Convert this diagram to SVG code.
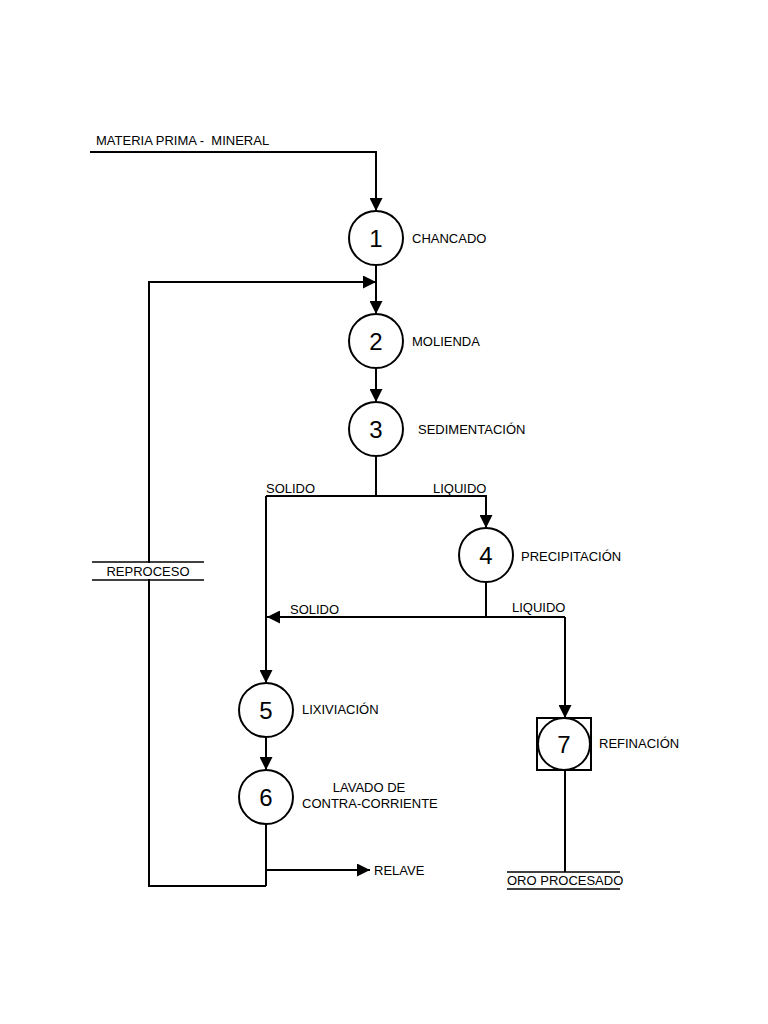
<svg xmlns="http://www.w3.org/2000/svg" width="768" height="1024" viewBox="0 0 768 1024">
<style>
.ln{fill:none;stroke:#000;stroke-width:2}
.thin{fill:none;stroke:#000;stroke-width:1.5}
.nd{fill:#fff;stroke:#000;stroke-width:2}
.num{font-family:"Liberation Sans",Arial,sans-serif;font-size:24px;text-anchor:middle;fill:#000}
.lb{font-family:"Liberation Sans",Arial,sans-serif;font-size:13px;fill:#000;white-space:pre}
</style>
<defs>
<marker id="ah" viewBox="0 0 10 10" refX="10" refY="5" markerWidth="6.5" markerHeight="6.5" markerUnits="strokeWidth" orient="auto">
<path d="M0,0 L10,5 L0,10 z" fill="#000"/>
</marker>
</defs>
<rect width="768" height="1024" fill="#fff"/>
<g id="connectors">
<polyline class="ln" points="90,152 376,152 376,211" marker-end="url(#ah)"/>
<polyline class="ln" points="266,886 149,886 149,282 376,282" marker-end="url(#ah)"/>
<line class="ln" x1="376" y1="265" x2="376" y2="314" marker-end="url(#ah)"/>
<line class="ln" x1="376" y1="368" x2="376" y2="402" marker-end="url(#ah)"/>
<polyline class="ln" points="376,456 376,496"/>
<polyline class="ln" points="266,496 486,496 486,528" marker-end="url(#ah)"/>
<line class="ln" x1="266" y1="496" x2="266" y2="683" marker-end="url(#ah)"/>
<line class="ln" x1="486" y1="582" x2="486" y2="617"/>
<line class="ln" x1="565" y1="617" x2="267" y2="617" marker-end="url(#ah)"/>
<line class="ln" x1="565" y1="617" x2="565" y2="718" marker-end="url(#ah)"/>
<line class="ln" x1="266" y1="737" x2="266" y2="770" marker-end="url(#ah)"/>
<line class="ln" x1="266" y1="824" x2="266" y2="886"/>
<line class="ln" x1="266" y1="870" x2="370" y2="870" marker-end="url(#ah)"/>
<line class="ln" x1="565" y1="770" x2="565" y2="872"/>
</g>
<g id="n1"><circle class="nd" cx="376" cy="238" r="27"/><text class="num" x="376" y="247">1</text><text class="lb" x="412" y="243">CHANCADO</text></g>
<g id="n2"><circle class="nd" cx="376" cy="341" r="27"/><text class="num" x="376" y="350">2</text><text class="lb" x="412" y="346">MOLIENDA</text></g>
<g id="n3"><circle class="nd" cx="376" cy="429" r="27"/><text class="num" x="376" y="438">3</text><text class="lb" x="418" y="434">SEDIMENTACIÓN</text></g>
<g id="n4"><circle class="nd" cx="486" cy="555" r="27"/><text class="num" x="486" y="564">4</text><text class="lb" x="521" y="561">PRECIPITACIÓN</text></g>
<g id="n5"><circle class="nd" cx="266" cy="710" r="27"/><text class="num" x="266" y="719">5</text><text class="lb" x="302" y="714">LIXIVIACIÓN</text></g>
<g id="n6"><circle class="nd" cx="266" cy="797" r="27"/><text class="num" x="266" y="806">6</text><text class="lb" x="369" y="792" text-anchor="middle">LAVADO DE</text><text class="lb" x="302" y="808">CONTRA-CORRIENTE</text></g>
<g id="n7"><rect class="nd" x="537" y="718" width="54" height="52"/><circle class="nd" cx="564" cy="744" r="26"/><text class="num" x="564" y="753">7</text><text class="lb" x="599" y="748">REFINACIÓN</text></g>
<g id="reproceso"><line class="thin" x1="92" y1="562" x2="204" y2="562"/><line class="thin" x1="92" y1="580" x2="204" y2="580"/><rect x="100" y="563" width="96" height="16" fill="#fff"/><text class="lb" x="148" y="576" text-anchor="middle">REPROCESO</text></g>
<g id="oro"><line class="thin" x1="507" y1="872" x2="620" y2="872"/><line class="thin" x1="507" y1="889" x2="620" y2="889"/><text class="lb" x="507" y="885">ORO PROCESADO</text></g>
<g id="labels">
<text class="lb" x="96" y="145" xml:space="preserve">MATERIA PRIMA -  MINERAL</text>
<text class="lb" x="266" y="493">SOLIDO</text>
<text class="lb" x="433" y="493">LIQUIDO</text>
<text class="lb" x="290" y="614">SOLIDO</text>
<text class="lb" x="512" y="612">LIQUIDO</text>
<text class="lb" x="374" y="875">RELAVE</text>
</g>
</svg>
